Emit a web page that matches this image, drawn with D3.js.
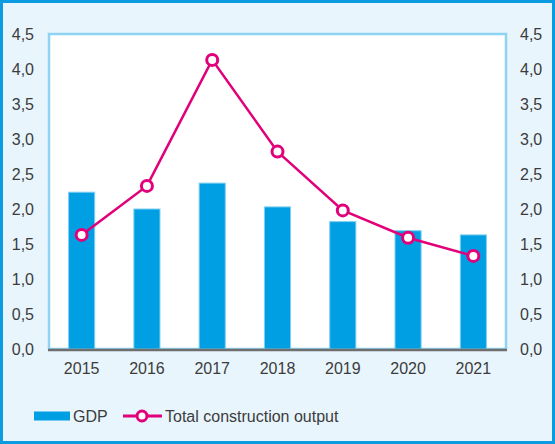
<!DOCTYPE html>
<html>
<head>
<meta charset="utf-8">
<script src="https://cdn.jsdelivr.net/npm/d3@7"></script>
<style>
  html, body { margin: 0; padding: 0; background: #fff; }
  svg { display: block; font-family: "Liberation Sans", Arial, sans-serif; }
</style>
</head>
<body>
<div id="chart"></div>
<script>
var years = ['2015', '2016', '2017', '2018', '2019', '2020', '2021'];
var gdp = [2.24, 2.00, 2.37, 2.03, 1.82, 1.69, 1.63];
var construction = [1.63, 2.33, 4.13, 2.82, 1.98, 1.59, 1.33];
var yTicks = [0, 0.5, 1, 1.5, 2, 2.5, 3, 3.5, 4, 4.5];

var settings = {
  width: 555,
  height: 444,
  plot_left: 49,
  plot_right: 506,
  plot_top: 34,
  plot_bottom: 349,
  bar_color: '#009fe3',
  line_color: '#e2007a',
  text_color: '#3c3c3c',
  font_size: 16
};

var svg = d3.select('#chart').append('svg')
  .attr('width', settings.width)
  .attr('height', settings.height);

// background + outer frame
svg.append('rect')
  .attr('x', 1.5).attr('y', 1.5)
  .attr('width', settings.width - 3).attr('height', settings.height - 3)
  .style('fill', '#e8f5fd')
  .style('stroke', '#0b9be0')
  .style('stroke-width', 3);

var x = d3.scaleBand()
  .domain(years)
  .range([settings.plot_left, settings.plot_right])
  .paddingInner(0.6)
  .paddingOuter(0.3);

var y = d3.scaleLinear()
  .domain([0, 4.5])
  .range([settings.plot_bottom, settings.plot_top]);

var fmt = function(d) { return d3.format('.1f')(d).replace('.', ','); };

// plot area
svg.append('rect')
  .attr('x', settings.plot_left)
  .attr('y', settings.plot_top)
  .attr('width', settings.plot_right - settings.plot_left)
  .attr('height', settings.plot_bottom - settings.plot_top)
  .style('fill', '#ffffff')
  .style('stroke', '#8fd3f3')
  .style('stroke-width', 2.5);

// bars
svg.selectAll('rect.bar')
  .data(years)
  .enter().append('rect')
  .attr('class', 'bar')
  .attr('x', function(d) { return x(d); })
  .attr('y', function(d, i) { return y(gdp[i]); })
  .attr('width', x.bandwidth())
  .attr('height', function(d, i) { return y(0) - y(gdp[i]); })
  .style('fill', settings.bar_color)
  .style('stroke', '#7fcff1')
  .style('stroke-width', 1);

// x axis line
svg.append('line')
  .attr('x1', settings.plot_left - 1).attr('x2', settings.plot_right + 1)
  .attr('y1', y(0) + 1).attr('y2', y(0) + 1)
  .style('stroke', '#6e6e6e')
  .style('stroke-width', 2.5);

// axes labels
var leftAxis = d3.axisLeft(y).tickValues(yTicks).tickFormat(fmt).tickSize(0).tickPadding(15);
var rightAxis = d3.axisRight(y).tickValues(yTicks).tickFormat(fmt).tickSize(0).tickPadding(14);
var bottomAxis = d3.axisBottom(x).tickSize(0).tickPadding(14);

function styleAxis(g) {
  g.select('.domain').remove();
  g.selectAll('text')
    .style('font-family', '"Liberation Sans", Arial, sans-serif')
    .style('font-size', settings.font_size + 'px')
    .style('fill', settings.text_color);
}

svg.append('g')
  .attr('transform', 'translate(' + settings.plot_left + ',0)')
  .call(leftAxis).call(styleAxis);

svg.append('g')
  .attr('transform', 'translate(' + settings.plot_right + ',0)')
  .call(rightAxis).call(styleAxis);

svg.append('g')
  .attr('transform', 'translate(0,' + settings.plot_bottom + ')')
  .call(bottomAxis).call(styleAxis);

// line
var cx = function(d, i) { return x(years[i]) + x.bandwidth() / 2; };

svg.append('path')
  .datum(construction)
  .attr('d', d3.line().x(cx).y(function(d) { return y(d); }))
  .style('fill', 'none')
  .style('stroke', settings.line_color)
  .style('stroke-width', 2.5);

svg.selectAll('circle.pt')
  .data(construction)
  .enter().append('circle')
  .attr('class', 'pt')
  .attr('cx', cx)
  .attr('cy', function(d) { return y(d); })
  .attr('r', 5.5)
  .style('fill', '#ffffff')
  .style('stroke', settings.line_color)
  .style('stroke-width', 3);

// legend
var legend = svg.append('g').attr('transform', 'translate(0,416)');

legend.append('rect')
  .attr('x', 34).attr('y', -4.5)
  .attr('width', 36).attr('height', 9)
  .style('fill', settings.bar_color);

legend.append('text')
  .attr('x', 73).attr('y', 6)
  .style('font-size', settings.font_size + 'px')
  .style('fill', settings.text_color)
  .text('GDP');

legend.append('line')
  .attr('x1', 123).attr('x2', 162)
  .attr('y1', 0).attr('y2', 0)
  .style('stroke', settings.line_color)
  .style('stroke-width', 3);

legend.append('circle')
  .attr('cx', 142).attr('cy', 0).attr('r', 5)
  .style('fill', '#ffffff')
  .style('stroke', settings.line_color)
  .style('stroke-width', 3);

legend.append('text')
  .attr('x', 165).attr('y', 6)
  .style('font-size', settings.font_size + 'px')
  .style('fill', settings.text_color)
  .text('Total construction output');
</script>
</body>
</html>
